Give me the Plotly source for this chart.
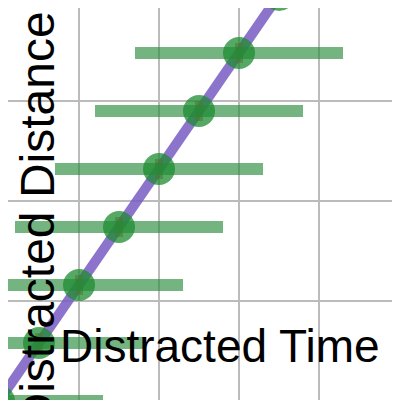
import plotly.graph_objects as go

time_vals = [0, 1, 2, 3, 4, 5, 6, 7]
dist_vals = [0, 58, 116, 174, 232, 290, 348, 406]
time_err = [2.6] * 8
dist_err = [10] * 8

fig = go.Figure()
fig.add_trace(go.Scatter(
    x=time_vals, y=dist_vals, mode="lines",
    line=dict(color="rgba(120,90,195,0.85)", width=10), cliponaxis=True))
fig.add_trace(go.Scatter(
    x=time_vals, y=dist_vals, mode="markers",
    marker=dict(size=32, color="rgba(30,140,50,0.75)"),
    error_x=dict(type="data", array=time_err, color="rgba(40,140,60,0.65)", thickness=12, width=0),
    error_y=dict(type="data", array=dist_err, color="rgba(220,60,60,0.6)", thickness=8, width=0)))

fig.update_layout(
    width=400, height=400, margin=dict(l=0, r=0, t=0, b=0),
    plot_bgcolor="white", paper_bgcolor="white", showlegend=False,
    xaxis=dict(range=[0.225, 10.225], dtick=2, tick0=0, showgrid=True, gridcolor="#bbbbbb", gridwidth=2,
               showticklabels=False, zeroline=False, showline=True, linecolor="black", linewidth=3),
    yaxis=dict(range=[-7, 393], dtick=100, showgrid=True, gridcolor="#bbbbbb", gridwidth=2,
               showticklabels=False, zeroline=False, showline=True, linecolor="black", linewidth=3),
    annotations=[
        dict(text="Distracted Time", x=0.53, y=0.085, xref="paper", yref="paper", showarrow=False,
             font=dict(size=46, color="black", family="Liberation Sans")),
        dict(text="Distracted Distance", x=0.0, y=0.47, xref="paper", yref="paper", showarrow=False,
             textangle=-90, font=dict(size=48, color="black", family="Liberation Sans")),
    ],
)
fig.write_html("out.html")
